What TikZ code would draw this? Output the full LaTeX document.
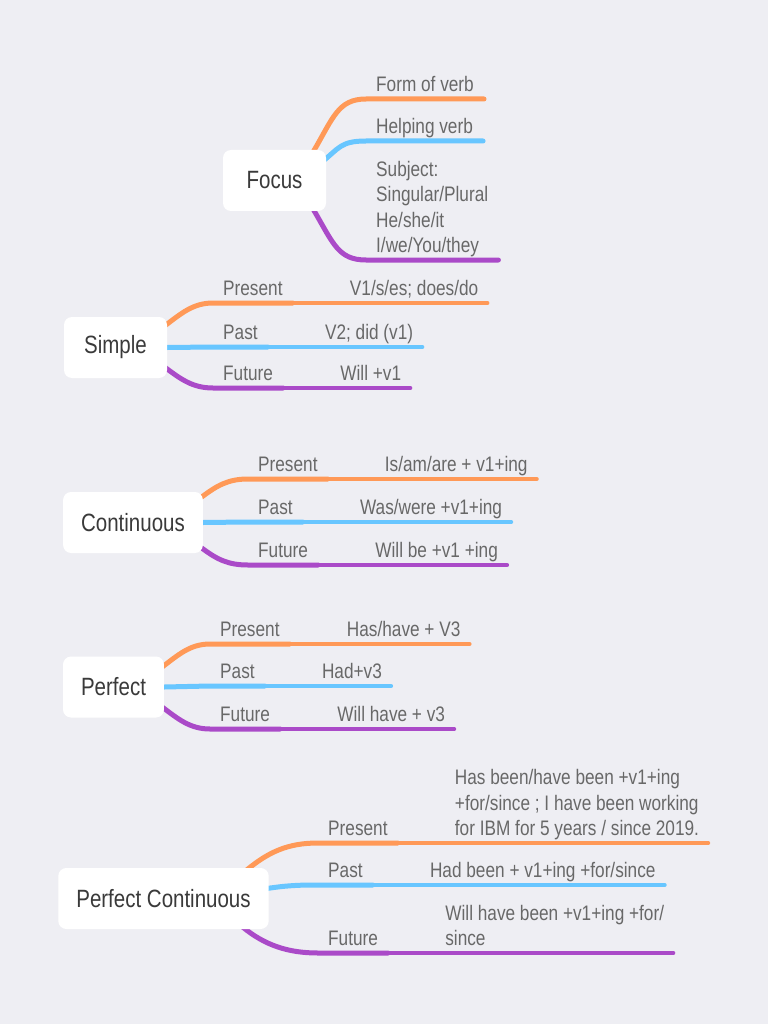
\documentclass[tikz,border=0pt]{standalone}
\usepackage{fontspec}
\setmainfont{Liberation Sans}[FakeStretch=0.82]
\usepackage{color}

\definecolor{bgcol}{RGB}{238,238,243}
\definecolor{mmorange}{RGB}{255,153,87}
\definecolor{mmblue}{RGB}{104,198,255}
\definecolor{mmpurple}{RGB}{170,74,200}
\definecolor{topictext}{RGB}{58,58,58}
\definecolor{leaftext}{RGB}{104,104,104}

\pgfdeclarelayer{back}
\pgfdeclarelayer{lines}
\pgfsetlayers{back,lines,main}

\newcommand{\leaflines}[1]{\begin{tabular}[b]{@{}l@{}}#1\end{tabular}}

\begin{document}
\begin{tikzpicture}[%
      x=1pt, y=-1pt,
      topic/.style={fill=white, rounded corners=8pt, text=topictext,
        font=\fontsize{25}{30}\selectfont, minimum height=61pt, inner xsep=18pt},
      leaf/.style={anchor=south west, text=leaftext, font=\fontsize{21}{25.5}\selectfont,
        inner xsep=10pt, inner ysep=7pt, text depth=0pt},
      val/.style={leaf, inner xsep=9pt, xshift=48pt},
      main/.style={line width=5pt, line cap=round},
      sub/.style={line width=4pt, line cap=round},
      ]
      \begin{pgfonlayer}{back}
      \fill [bgcol] (0,0) rectangle (768,1024);
      \end{pgfonlayer}
      \useasboundingbox (0,0) rectangle (768,1024);

      % Focus
      \node[topic, minimum width=103pt] (focus) at (274.5,180.5) {Focus};
      \node[leaf] (form) at (366,99) {Form of verb};
      \node[leaf] (help) at (366,141) {Helping verb};
      \node[leaf] (subj) at (366,260) {\leaflines{Subject:\\Singular/Plural\\He/she/it\\I/we/You/they}};

      % Simple
      \node[topic, minimum width=103pt] (simple) at (115.5,347.5) {Simple};
      \node[leaf] (spres) at (213,303) {Present};
      \node[val] (spresv) at (spres.south east) {V1/s/es; does/do};
      \node[leaf] (spast) at (213,347) {Past};
      \node[val] (spastv) at (spast.south east) {V2; did (v1)};
      \node[leaf] (sfut) at (213,388) {Future};
      \node[val] (sfutv) at (sfut.south east) {Will +v1};

      % Continuous
      \node[topic] (cont) at (133,522.5) {Continuous};
      \node[leaf] (cpres) at (248,479) {Present};
      \node[val] (cpresv) at (cpres.south east) {Is/am/are + v1+ing};
      \node[leaf] (cpast) at (248,522) {Past};
      \node[val] (cpastv) at (cpast.south east) {Was/were +v1+ing};
      \node[leaf] (cfut) at (248,565) {Future};
      \node[val] (cfutv) at (cfut.south east) {Will be +v1 +ing};

      % Perfect
      \node[topic] (perf) at (113.5,687) {Perfect};
      \node[leaf] (ppres) at (210,644) {Present};
      \node[val] (ppresv) at (ppres.south east) {Has/have + V3};
      \node[leaf] (ppast) at (210,686) {Past};
      \node[val] (ppastv) at (ppast.south east) {Had+v3};
      \node[leaf] (pfut) at (210,729) {Future};
      \node[val] (pfutv) at (pfut.south east) {Will have + v3};

      % Perfect Continuous
      \node[topic] (pcont) at (163.5,898.5) {Perfect Continuous};
      \node[leaf] (pcpres) at (318,843) {Present};
      \node[val] (pcpresv) at (pcpres.south east) {\leaflines{Has been/have been +v1+ing\\+for/since ; I have been working\\for IBM for 5 years / since 2019.}};
      \node[leaf] (pcpast) at (318,885) {Past};
      \node[val] (pcpastv) at (pcpast.south east) {Had been + v1+ing +for/since};
      \node[leaf] (pcfut) at (318,953) {Future};
      \node[val] (pcfutv) at (pcfut.south east) {\leaflines{Will have been +v1+ing +for/\\since}};

      \begin{pgfonlayer}{lines}
      \draw[main, mmorange] ([shift={(-13,2)}]focus.north east) .. controls +(20,-34) and +(-28,0) .. (form.south west) -- (form.south east);
      \draw[main, mmblue] ([shift={(-5,-18)}]focus.east) .. controls +(18,-14) and +(-26,0) .. (help.south west) -- (help.south east);
      \draw[main, mmpurple] ([shift={(-13,-2)}]focus.south east) .. controls +(20,34) and +(-28,0) .. (subj.south west) -- (subj.south east);

      \draw[main, mmorange] ([shift={(-2,-22)}]simple.east) .. controls +(16,-12) and +(-20,0) .. (spres.south west) -- (spres.south east);
      \draw[sub, mmorange] (spres.south east) -- (spresv.south east);
      \draw[main, mmblue] (simple.east) -- (spast.south west) -- (spast.south east);
      \draw[sub, mmblue] (spast.south east) -- (spastv.south east);
      \draw[main, mmpurple] ([shift={(-2,20)}]simple.east) .. controls +(16,12) and +(-20,0) .. (sfut.south west) -- (sfut.south east);
      \draw[sub, mmpurple] (sfut.south east) -- (sfutv.south east);

      \draw[main, mmorange] ([shift={(-2,-25)}]cont.east) .. controls +(16,-12) and +(-20,0) .. (cpres.south west) -- (cpres.south east);
      \draw[sub, mmorange] (cpres.south east) -- (cpresv.south east);
      \draw[main, mmblue] (cont.east) -- (cpast.south west) -- (cpast.south east);
      \draw[sub, mmblue] (cpast.south east) -- (cpastv.south east);
      \draw[main, mmpurple] ([shift={(-2,25)}]cont.east) .. controls +(16,12) and +(-20,0) .. (cfut.south west) -- (cfut.south east);
      \draw[sub, mmpurple] (cfut.south east) -- (cfutv.south east);

      \draw[main, mmorange] ([shift={(-2,-20)}]perf.east) .. controls +(16,-12) and +(-20,0) .. (ppres.south west) -- (ppres.south east);
      \draw[sub, mmorange] (ppres.south east) -- (ppresv.south east);
      \draw[main, mmblue] (perf.east) -- (ppast.south west) -- (ppast.south east);
      \draw[sub, mmblue] (ppast.south east) -- (ppastv.south east);
      \draw[main, mmpurple] ([shift={(-2,20)}]perf.east) .. controls +(16,12) and +(-20,0) .. (pfut.south west) -- (pfut.south east);
      \draw[sub, mmpurple] (pfut.south east) -- (pfutv.south east);

      \draw[main, mmorange] ([shift={(-22,2)}]pcont.north east) .. controls +(22,-18) and +(-30,0) .. (pcpres.south west) -- (pcpres.south east);
      \draw[sub, mmorange] (pcpres.south east) -- (pcpresv.south east);
      \draw[main, mmblue] ([shift={(-2,-10)}]pcont.east) .. controls +(20,-3) and +(-20,0) .. (pcpast.south west) -- (pcpast.south east);
      \draw[sub, mmblue] (pcpast.south east) -- (pcpastv.south east);
      \draw[main, mmpurple] ([shift={(-26,-2)}]pcont.south east) .. controls +(22,18) and +(-30,0) .. (pcfut.south west) -- (pcfut.south east);
      \draw[sub, mmpurple] (pcfut.south east) -- (pcfutv.south east);
      \end{pgfonlayer}
\end{tikzpicture}
\end{document}
